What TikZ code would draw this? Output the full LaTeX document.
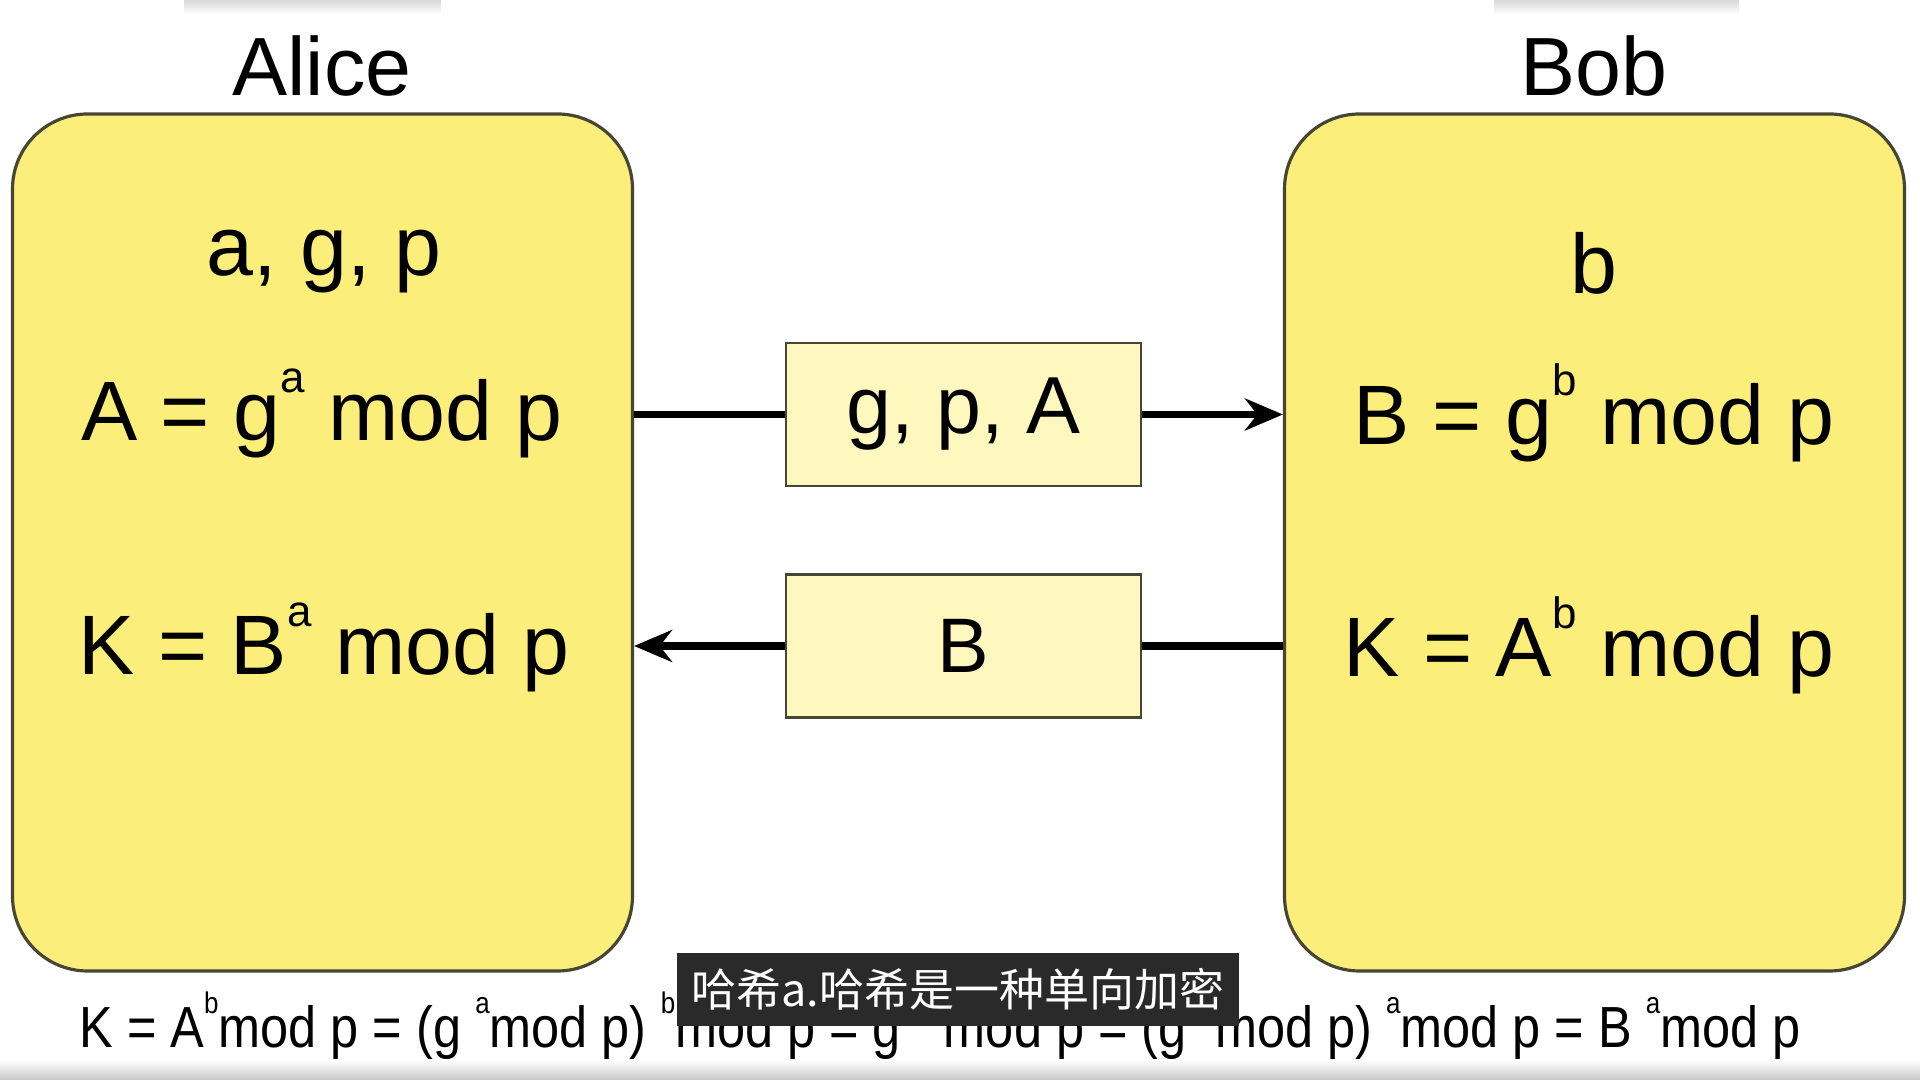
\documentclass[tikz,border=0pt]{standalone}
\usepackage{graphicx}
\usepackage{fontspec}
\setmainfont{Liberation Sans}
\newfontfamily\cjk{Noto Sans CJK SC}
\usetikzlibrary{positioning, arrows.meta, calc}

\definecolor{partyfill}{RGB}{251,238,122}
\definecolor{msgfill}{RGB}{255,248,190}
\definecolor{edgecol}{RGB}{70,70,50}
\definecolor{capbg}{RGB}{42,42,42}

% small raised exponent, as the slide draws it
\newcommand{\expo}[1]{\raisebox{0.58em}{\fontsize{12.5}{12.5}\selectfont #1}}
\newcommand{\fexpo}[1]{\raisebox{0.6em}{\fontsize{8.5}{8.5}\selectfont #1}}

\tikzset{
  party/.style = {draw=edgecol, rectangle, rounded corners=0.75cm,
                  minimum width=6.2cm, minimum height=8.57cm,
                  fill=partyfill, line width=0.9pt},
  msg/.style   = {draw=edgecol, rectangle,
                  minimum width=3.55cm, minimum height=1.43cm,
                  fill=msgfill, line width=0.8pt, inner sep=0pt,
                  font=\fontsize{23}{27}\selectfont},
  who/.style   = {anchor=base, inner sep=0pt, font=\fontsize{23.5}{28}\selectfont},
  eqn/.style   = {anchor=base, inner sep=0pt, font=\fontsize{24}{28}\selectfont},
  line/.style  = {line width=2pt},
  arr/.style   = {-{Stealth[length=0.38cm, width=0.32cm]}, line width=2pt},
}

\begin{document}
\begin{tikzpicture}

% ────────────────────────────────────────────────────────────
%  Canvas 19.2 x 10.8, origin bottom left
% ────────────────────────────────────────────────────────────
\path[use as bounding box, fill=white] (0,0) rectangle (19.2,10.8);

% faint video edges
\shade[top color=black!15, bottom color=white] (1.84,10.66) rectangle (4.41,10.8);
\shade[top color=black!15, bottom color=white] (14.94,10.66) rectangle (17.39,10.8);
\shade[top color=white, bottom color=black!22] (0,0) rectangle (19.2,0.2);

% ═══════════════════════════════════════════════════════════
%  ALICE
% ═══════════════════════════════════════════════════════════
\node[who] (alice-name) at (3.22, 9.845) {Alice};
\node[party] (alice) at (3.225, 5.375) {};

\node[eqn] (alice-sec) at (3.24, 8.045) {a, g, p};
\node[eqn] (alice-pub) at (3.22, 6.39)  {A = g\expo{a} mod p};
\node[eqn] (alice-key) at (3.24, 4.05)  {K = B\expo{a} mod p};

% ═══════════════════════════════════════════════════════════
%  BOB
% ═══════════════════════════════════════════════════════════
\node[who] (bob-name) at (15.94, 9.845) {Bob};
\node[party] (bob) at (15.945, 5.375) {};

\node[eqn] (bob-sec) at (15.94, 7.86)  {b};
\node[eqn] (bob-pub) at (15.94, 6.355) {B = g\expo{b} mod p};
\node[eqn] (bob-key) at (15.89, 4.03)  {K = A\expo{b} mod p};

% ═══════════════════════════════════════════════════════════
%  MESSAGES
% ═══════════════════════════════════════════════════════════
\node[msg] (m1) at (9.635, 6.655) {g, p, A};
\node[msg, font=\fontsize{22}{26}\selectfont] (m2) at (9.635, 4.34)  {B};

\draw[line] (alice.east |- m1.west) -- (m1.west);
\draw[arr]  (m1.east) -- (bob.west |- m1.east);

\draw[line] (bob.west |- m2.east) -- (m2.east);
\draw[arr]  (m2.west) -- (alice.east |- m2.west);

% ── shared key, bottom line ─────────────────────────────────
\node[anchor=base, inner sep=0pt, font=\fontsize{16.5}{20}\selectfont] (proof) at (9.40, 0.32)
  {\scalebox{0.87}[1]{K = A\fexpo{b}mod p = (g \fexpo{a}mod p) \fexpo{b}mod p = g \fexpo{ab}mod p
   = (g \fexpo{b}mod p) \fexpo{a}mod p = B \fexpo{a}mod p}};

% ── caption strip over it ───────────────────────────────────
\node[fill=capbg, minimum width=5.62cm, minimum height=0.73cm, inner sep=0pt,
      text=white, font=\cjk\fontsize{12.8}{15}\selectfont] (caption) at (9.58, 0.905)
  {哈希a.哈希是一种单向加密};

\end{tikzpicture}
\end{document}
